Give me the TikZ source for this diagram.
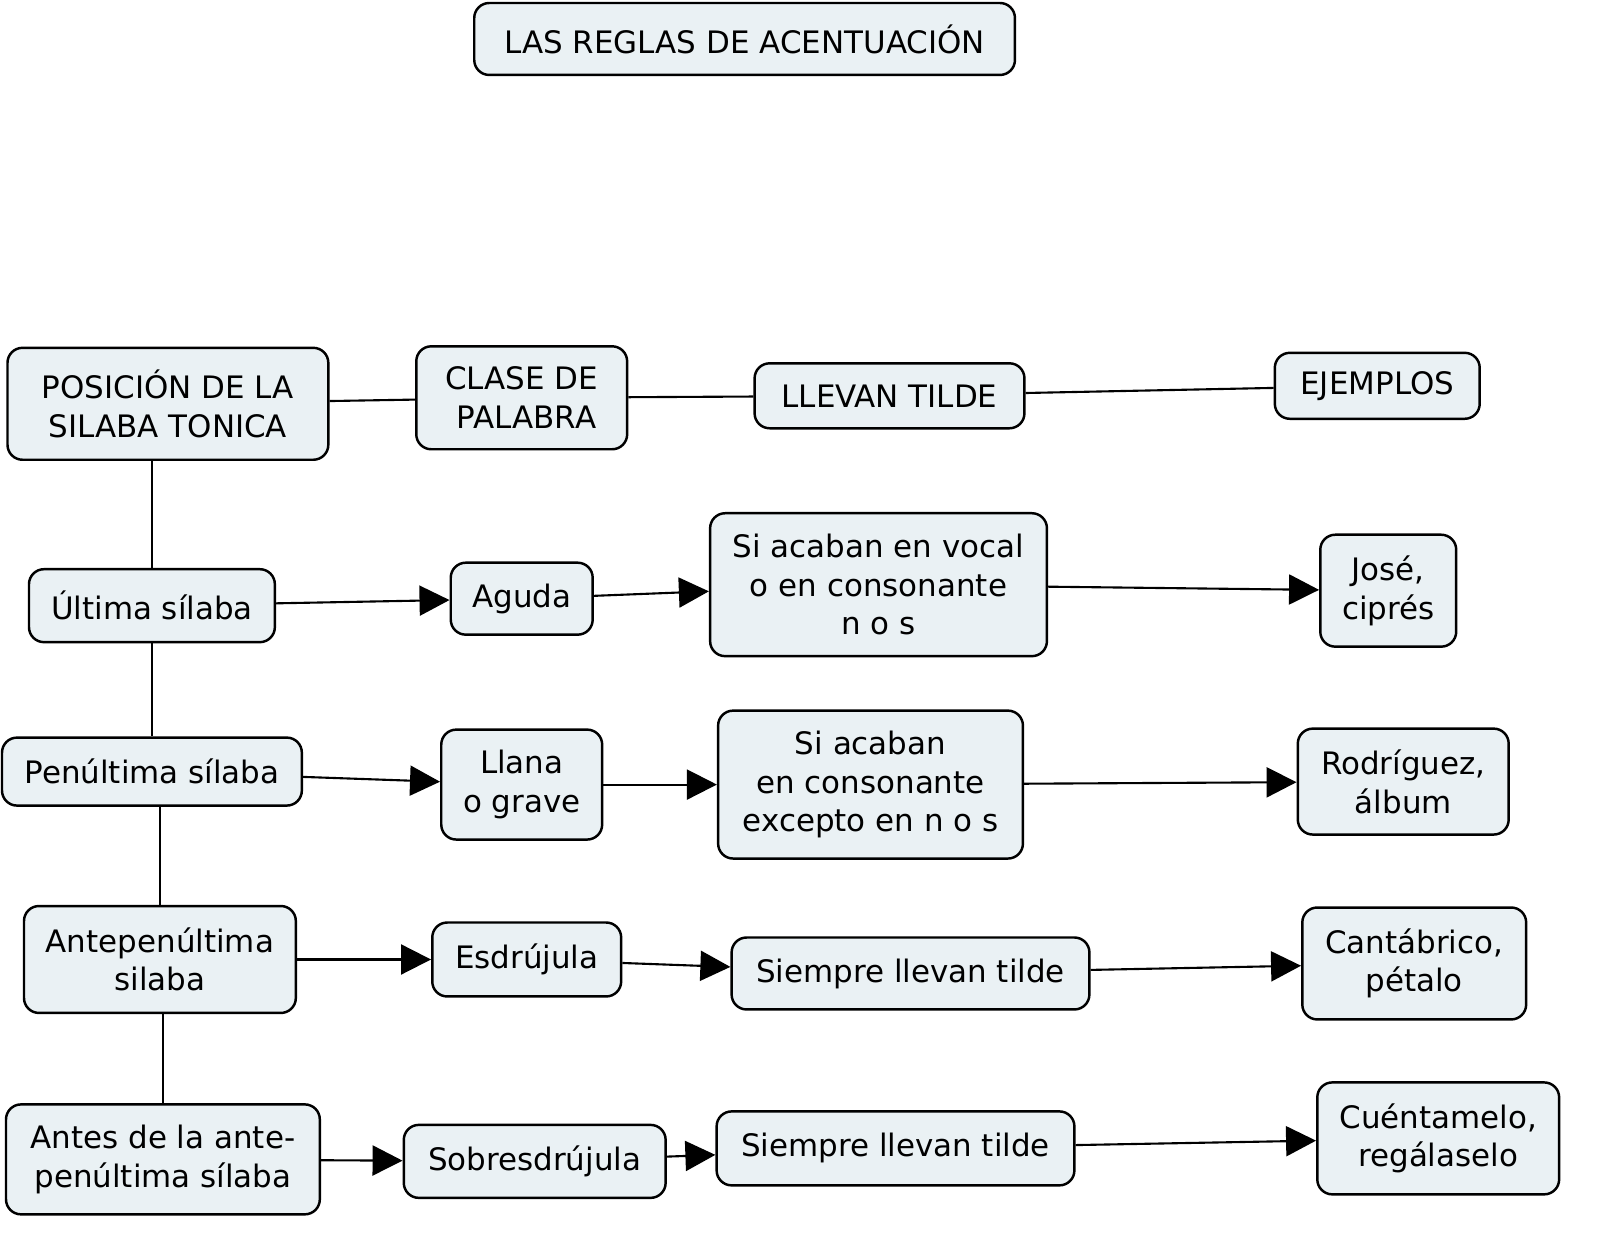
\documentclass[tikz,border=0pt]{standalone}
\usepackage{fontspec}
\setmainfont{DejaVu Sans}
\usetikzlibrary{arrows.meta}
\definecolor{boxfill}{HTML}{EAF1F4}
\tikzset{
  box/.style={draw, line width=0.7pt, rounded corners=0.15cm, fill=boxfill,
    align=center, inner sep=0pt, font=\fontsize{8.8}{11}\selectfont},
  link/.style={line width=0.6pt},
  arr/.style={line width=0.6pt, -{Triangle[length=0.3cm,width=0.3cm]}}
}
% box at pixel centre with pixel size
\newcommand{\bx}[6]{\node[box, minimum width=#4*0.01cm, minimum height=#5*0.01cm] (#1) at (#2*0.01,-#3*0.01) {#6};}
\begin{document}
\begin{tikzpicture}
\bx{title}{745}{39}{541}{72}{LAS REGLAS DE ACENTUACIÓN}
\bx{pos}{168}{404}{321}{112}{POSICIÓN DE LA\\SILABA TONICA}
\bx{clase}{522}{398}{211}{103}{CLASE DE\\\ PALABRA}
\bx{llevan}{890}{396}{270}{65}{LLEVAN TILDE}
\bx{ejemplos}{1378}{386}{205}{66}{EJEMPLOS}
\bx{ultima}{152}{606}{246}{73}{Última sílaba}
\bx{aguda}{522}{599}{142}{72}{Aguda}
\bx{sivocal}{879}{585}{337}{143}{Si acaban en vocal\\o en consonante\\n o s}
\bx{jose}{1389}{591}{136}{112}{José,\\ciprés}
\bx{penult}{152}{772}{300}{68}{Penúltima sílaba}
\bx{llana}{522}{785}{161}{110}{Llana\\o grave}
\bx{sicons}{871}{785}{305}{148}{Si acaban\\en consonante\\excepto en n o s}
\bx{rodri}{1404}{782}{211}{106}{Rodríguez,\\álbum}
\bx{antep}{160}{960}{272}{107}{Antepenúltima\\silaba}
\bx{esdr}{527}{960}{189}{74}{Esdrújula}
\bx{siempreA}{911}{974}{358}{72}{Siempre llevan tilde}
\bx{cant}{1415}{964}{224}{112}{Cantábrico,\\pétalo}
\bx{antes}{163}{1160}{314}{110}{Antes de la ante-\\penúltima sílaba}
\bx{sobre}{535}{1162}{262}{73}{Sobresdrújula}
\bx{siempreB}{896}{1149}{358}{74}{Siempre llevan tilde}
\bx{cuent}{1439}{1139}{242}{112}{Cuéntamelo,\\regálaselo}

% header row
\draw[link] (pos) -- (clase);
\draw[link] (clase) -- (llevan);
\draw[link] (llevan) -- (ejemplos);
% left column
\draw[link] (pos.south -| ultima) -- (ultima.north);
\draw[link] (ultima) -- (penult);
\draw[link] (penult.south -| antep) -- (antep.north);
\draw[link] (antep.south -| antes) -- (antes.north);
% rows
\draw[arr] (ultima) -- (aguda);
\draw[arr] (aguda) -- (sivocal);
\draw[arr] (sivocal) -- (jose);
\draw[arr] (penult) -- (llana);
\draw[arr] (llana) -- (sicons);
\draw[arr] (sicons) -- (rodri);
\draw[arr] (antep) -- (esdr);
\draw[arr] (esdr) -- (siempreA);
\draw[arr] (siempreA) -- (cant);
\draw[arr] (antes) -- (sobre);
\draw[arr] (sobre) -- (siempreB);
\draw[arr] (siempreB) -- (cuent);
\pgfresetboundingbox
\useasboundingbox (0,0) rectangle (16,-12.47);
\end{tikzpicture}
\end{document}
